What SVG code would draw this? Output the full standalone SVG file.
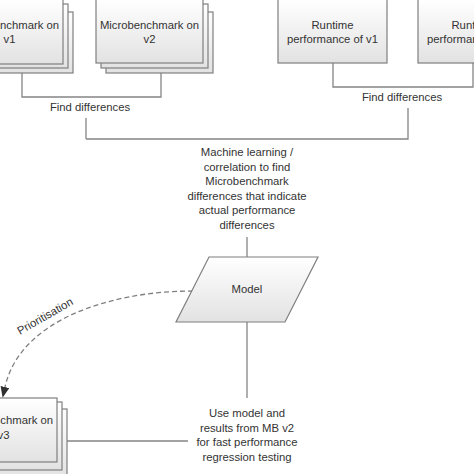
<svg xmlns="http://www.w3.org/2000/svg" width="474" height="474" viewBox="0 0 474 474">
<defs>
<linearGradient id="g" x1="0" y1="0" x2="0" y2="1">
<stop offset="0" stop-color="#ffffff"/>
<stop offset="1" stop-color="#e2e2e2"/>
</linearGradient>
<marker id="ah" markerUnits="userSpaceOnUse" markerWidth="11" markerHeight="9" refX="0" refY="4.5" orient="auto">
<path d="M0,0 L11,4.5 L0,9 z" fill="#303030"/>
</marker>
<style>
.box{fill:url(#g);stroke:#7f7f7f;stroke-width:1.2}
.ln{fill:none;stroke:#858585;stroke-width:1.3}
.dash{fill:none;stroke:#808080;stroke-width:1.3;stroke-dasharray:5 3}
text{font-family:"Liberation Sans",Arial,sans-serif;font-size:11.3px;fill:#333333;text-anchor:middle}
</style>
</defs>
<rect width="474" height="474" fill="#ffffff"/>
<g id="connectors">
<polyline class="ln" points="22,73 22,97 161,97 161,73"/>
<polyline class="ln" points="333,63 333,87 473,87 473,63"/>
<line class="ln" x1="86" y1="118" x2="86" y2="139"/>
<polyline class="ln" points="86,139 408,139 408,108"/>
<line class="ln" x1="247" y1="237" x2="247" y2="257"/>
<line class="ln" x1="247" y1="322" x2="247" y2="398"/>
<line class="ln" x1="67" y1="441" x2="188" y2="441"/>
<path class="dash" d="M193,291 C110,291 20,320 5,387" marker-end="url(#ah)"/>
<text transform="translate(45,316) rotate(-30)" x="0" y="4">Prioritisation</text>
<text x="90" y="111">Find differences</text>
<text x="402" y="101">Find differences</text>
</g>
<g id="mb-v1">
<rect class="box" x="-34" y="12" width="107" height="61"/>
<rect class="box" x="-39" y="4" width="107" height="64"/>
<rect class="box" x="-44" y="-1" width="107" height="65"/>
<text x="9.5" y="28.5">Microbenchmark on</text>
<text x="9.5" y="43">v1</text>
</g>
<g id="mb-v2">
<rect class="box" x="106" y="12" width="107" height="61"/>
<rect class="box" x="101" y="4" width="107" height="64"/>
<rect class="box" x="96" y="-1" width="107" height="64"/>
<text x="149.5" y="28.5">Microbenchmark on</text>
<text x="149.5" y="43">v2</text>
</g>
<g id="rt-v1">
<rect class="box" x="278" y="-1" width="109" height="64"/>
<text x="332.5" y="28.5">Runtime</text>
<text x="332.5" y="43">performance of v1</text>
</g>
<g id="rt-v2">
<rect class="box" x="418" y="-1" width="109" height="64"/>
<text x="472.5" y="28.5">Runtime</text>
<text x="472.5" y="43">performance of v2</text>
</g>
<g id="ml">
<text x="247" y="156">Machine learning /</text>
<text x="247" y="170.5">correlation to find</text>
<text x="247" y="185">Microbenchmark</text>
<text x="247" y="199.5">differences that indicate</text>
<text x="247" y="214">actual performance</text>
<text x="247" y="228.5">differences</text>
</g>
<g id="model">
<polygon class="box" points="209,257 318,257 285,322 176,322"/>
<text x="247" y="293">Model</text>
</g>
<g id="mb-v3">
<rect class="box" x="-40" y="409" width="107" height="70"/>
<rect class="box" x="-45" y="402" width="107" height="68"/>
<rect class="box" x="-50" y="398" width="107" height="64"/>
<text x="3.5" y="424">Microbenchmark on</text>
<text x="3.5" y="438.5">v3</text>
</g>
<g id="use-model">
<text x="247" y="417">Use model and</text>
<text x="247" y="431.5">results from MB v2</text>
<text x="247" y="446">for fast performance</text>
<text x="247" y="460.5">regression testing</text>
</g>
</svg>
